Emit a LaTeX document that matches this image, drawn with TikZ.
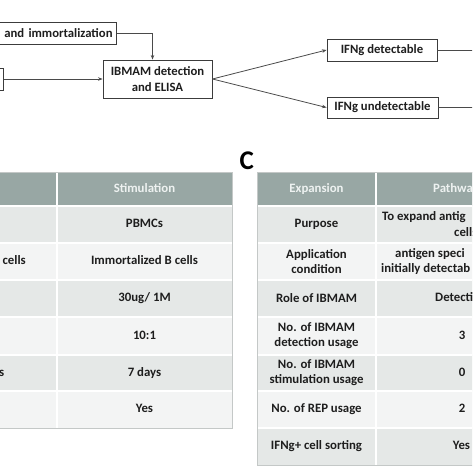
\documentclass[tikz,border=0pt]{standalone}
\usepackage{fontspec}
\setmainfont{Carlito}
\usepackage{xcolor}
\definecolor{boxgray}{HTML}{3C3C3C}
\definecolor{linegray}{HTML}{4A4A4A}
\definecolor{headfill}{HTML}{98A7A4}
\definecolor{headtext}{HTML}{EEF2F1}
\definecolor{rowdark}{HTML}{E5E8E7}
\definecolor{rowlight}{HTML}{F3F4F4}
\definecolor{textdark}{HTML}{1E1E1E}
\definecolor{framegray}{HTML}{C4C8C7}
\usepackage{tikz}
\usetikzlibrary{arrows.meta,positioning,calc}

\begin{document}
\begin{tikzpicture}[x=1pt, y=-1pt,
    flowbox/.style={rectangle, draw=boxgray, line width=0.9pt, fill=white, text=textdark, font=\bfseries\fontsize{12.7}{16}\selectfont, inner sep=0pt, align=center},
    flowline/.style={draw=linegray, line width=0.8pt},
    flowarrow/.style={flowline, -{Stealth[length=4.5pt,width=3.5pt]}},
    cell/.style={text=textdark, font=\bfseries\fontsize{12.8}{15}\selectfont, inner sep=0pt, align=center},
    frag/.style={cell, text height=8.5pt, text depth=2.5pt},
    headcell/.style={frag, text=headtext},
  ]
    \useasboundingbox (0,0) rectangle (474,474);
    \fill[white] (0,0) rectangle (474,474);
    \clip (0,0) rectangle (472,474);

    % flow at the top
    \node[flowbox, minimum width=30pt, minimum height=22pt, anchor=east] (src) at (4,79) {};
    \node[flowbox, text width=150pt, align=right, inner xsep=4pt, minimum height=22pt, anchor=east] (immort) at (117,33) {and immortalization};
    \node[flowbox, minimum width=109pt, minimum height=38pt] (ibmam) at (157.5,79) {IBMAM detection\\and ELISA};
    \node[flowbox, minimum width=110pt, minimum height=22pt] (det) at (382,50) {IFNg detectable};
    \node[flowbox, minimum width=111pt, minimum height=21pt] (undet) at (382.5,107.5) {IFNg undetectable};
    \coordinate (detout) at (480,50);
    \coordinate (undetout) at (480,107.5);

    \draw[flowarrow] (immort.east) -| ([xshift=-5pt]ibmam.north);
    \draw[flowarrow] (src.east) -- (ibmam.west);
    \draw[flowarrow] (ibmam.east) -- (det.west);
    \draw[flowarrow] (ibmam.east) -- (undet.west);
    \draw[flowline] (det.east) -- (detout);
    \draw[flowline] (undet.east) -- (undetout);

    % table backgrounds
    \fill[headfill] (-10,172) rectangle (232,206);
    \fill[headfill] (257,172) rectangle (490,206);
    \foreach \top/\bot/\shade in {206/243/rowdark, 243/280/rowlight, 280/317/rowdark, 317/355/rowlight, 355/391/rowdark, 391/428/rowlight} {
      \fill[\shade] (-10,\top) rectangle (232,\bot);
      \fill[\shade] (257,\top) rectangle (490,\bot);
    }
    \fill[rowdark] (257,428) rectangle (490,465);
    \foreach \y in {206,243,280,317,355,391} {
      \draw[white, line width=1.2pt] (-10,\y) -- (232,\y);
    }
    \foreach \y in {206,243,280,317,355,391,428} {
      \draw[white, line width=1.2pt] (257,\y) -- (490,\y);
    }
    \draw[white, line width=1.2pt] (57,172) -- (57,428);
    \draw[white, line width=1.2pt] (376,172) -- (376,465);
    \draw[framegray, line width=0.8pt] (-10,172) rectangle (232,428);
    \draw[framegray, line width=0.8pt] (257,172) rectangle (490,465);

    % left table
    \node[headcell] (bhead) at (144.5,189) {Stimulation};
    \node[frag] (brow1) at (144.5,224.5) {PBMCs};
    \node[frag] (brow2) at (144.5,261.5) {Immortalized B cells};
    \node[frag] (brow3) at (144.5,298.5) {30ug/ 1M};
    \node[frag] (brow4) at (144.5,336) {10:1};
    \node[frag] (brow5) at (144.5,373) {7 days};
    \node[frag] (brow6) at (144.5,409.5) {Yes};
    \node[frag, anchor=east] (bleft2) at (26,261.5) {cells};
    \node[frag, anchor=east] (bleft5) at (4.5,373) {s};

    % right table
    \node[font=\bfseries\fontsize{27}{30}\selectfont, text=black, inner sep=0pt, anchor=base west] (clabel) at (239.5,169) {C};
    \node[headcell] (chead) at (316.5,189) {Expansion};
    \node[cell] (crow1) at (316.5,224.5) {Purpose};
    \node[cell] (crow2) at (316.5,261.5) {Application\\condition};
    \node[cell] (crow3) at (316.5,298.5) {Role of IBMAM};
    \node[cell] (crow4) at (316.5,336) {No. of IBMAM\\detection usage};
    \node[cell] (crow5) at (316.5,373) {No. of IBMAM\\stimulation usage};
    \node[cell] (crow6) at (316.5,409.5) {No. of REP usage};
    \node[cell] (crow7) at (316.5,446.5) {IFNg+ cell sorting};

    \node[headcell, anchor=west] (phead) at (433,189) {Pathwa};
    \node[frag, anchor=west] (prow1a) at (382,217) {To expand antig};
    \node[frag, anchor=west] (prow1b) at (454,233) {cells};
    \node[frag, anchor=west] (prow2a) at (395,254) {antigen speci};
    \node[frag, anchor=west] (prow2b) at (381,269.5) {initially detectab};
    \node[frag, anchor=west] (prow3) at (435,298.5) {Detecti};
    \node[frag] (prow4) at (462,336) {3};
    \node[frag] (prow5) at (462,373) {0};
    \node[frag] (prow6) at (462,409.5) {2};
    \node[frag] (prow7) at (461.5,446.5) {Yes};
  \end{tikzpicture}
\end{document}
